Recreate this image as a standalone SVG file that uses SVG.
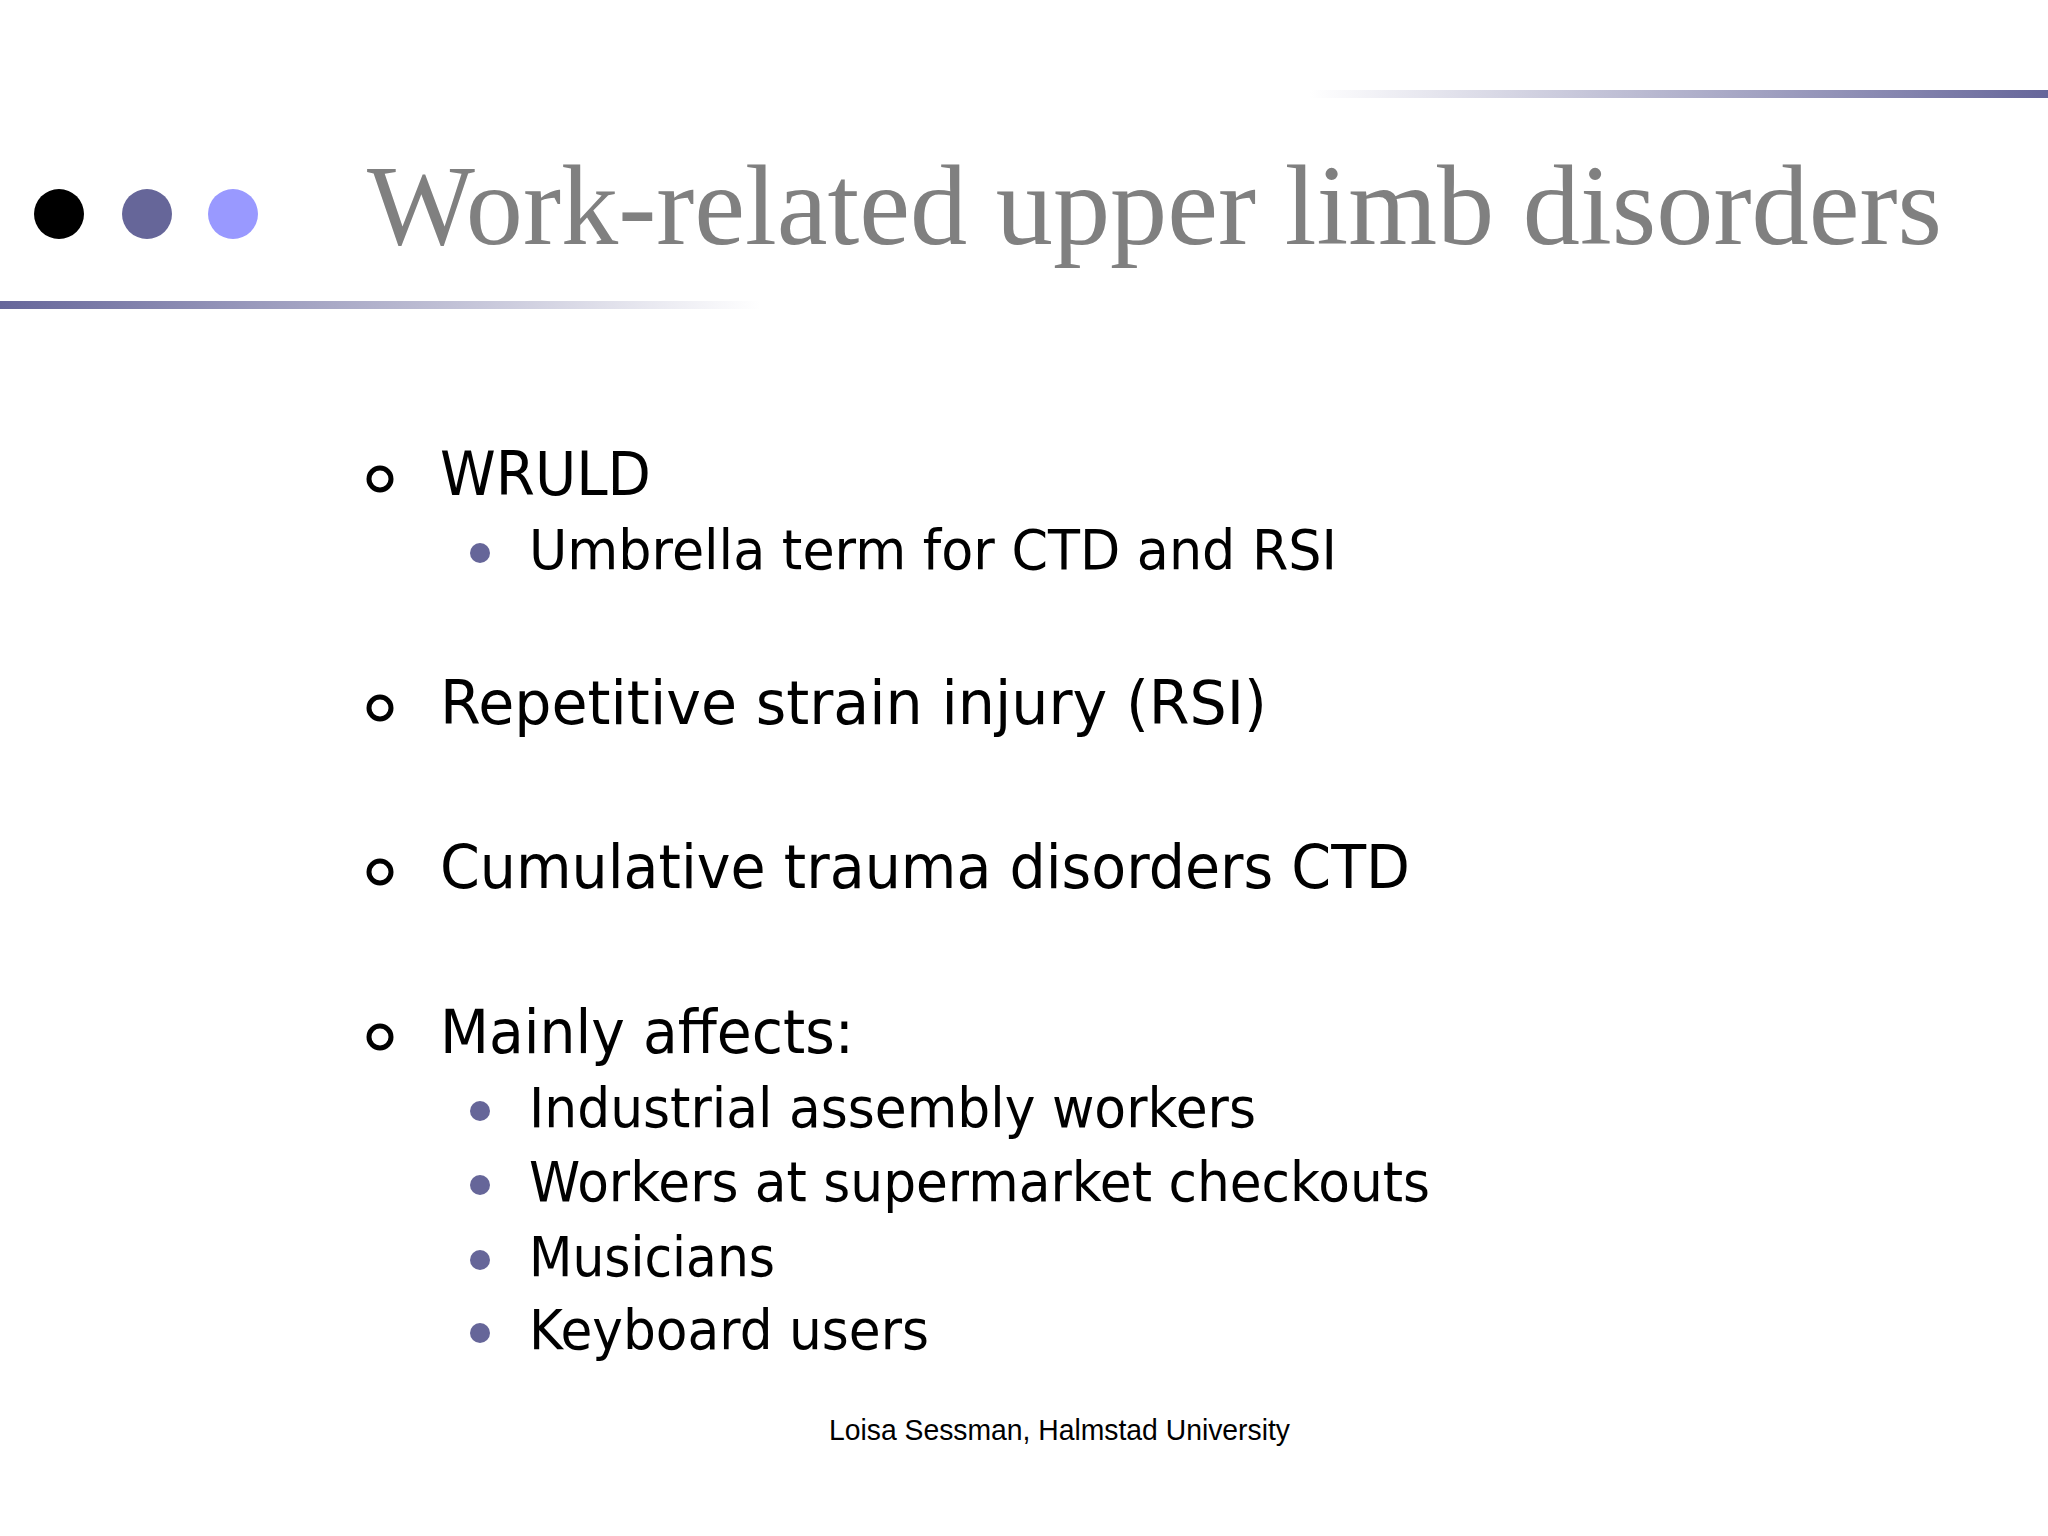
<svg xmlns="http://www.w3.org/2000/svg" width="2048" height="1536" viewBox="0 0 2048 1536">
<defs>
<linearGradient id="gTop" x1="0" x2="1" y1="0" y2="0"><stop offset="0" stop-color="#ffffff"/><stop offset="1" stop-color="#66669a"/></linearGradient>
<linearGradient id="gBot" x1="0" x2="1" y1="0" y2="0"><stop offset="0" stop-color="#66669a"/><stop offset="1" stop-color="#ffffff"/></linearGradient>
</defs>
<style>
.l1{font-family:"DejaVu Sans",Verdana,sans-serif;font-size:60px;fill:#000}
.l2{font-family:"DejaVu Sans",Verdana,sans-serif;font-size:56px;fill:#000}
.hb{fill:none;stroke:#000;stroke-width:5}
.db{fill:#666699}
</style>
<rect width="2048" height="1536" fill="#fff"/>
<g id="header">
<rect x="1310" y="90" width="738" height="8" fill="url(#gTop)"/>
<rect x="0" y="301" width="760" height="8" fill="url(#gBot)"/>
<circle cx="59" cy="214" r="25" fill="#000"/>
<circle cx="147" cy="214" r="25" fill="#666699"/>
<circle cx="233" cy="214" r="25" fill="#9999ff"/>
<text x="367" y="244" font-family="'Liberation Serif','Times New Roman',serif" font-size="115" fill="#808080" textLength="1575" lengthAdjust="spacingAndGlyphs">Work-related upper limb disorders</text>
</g>
<g id="bullets">
<circle class="hb" cx="380" cy="479" r="11"/><text class="l1" x="440" y="495" textLength="211" lengthAdjust="spacingAndGlyphs">WRULD</text>
<circle class="db" cx="480" cy="553" r="10"/><text class="l2" x="529" y="569" textLength="808" lengthAdjust="spacingAndGlyphs">Umbrella term for CTD and RSI</text>
<circle class="hb" cx="380" cy="708" r="11"/><text class="l1" x="440" y="724" textLength="827" lengthAdjust="spacingAndGlyphs">Repetitive strain injury (RSI)</text>
<circle class="hb" cx="380" cy="872" r="11"/><text class="l1" x="440" y="888" textLength="970" lengthAdjust="spacingAndGlyphs">Cumulative trauma disorders CTD</text>
<circle class="hb" cx="380" cy="1037" r="11"/><text class="l1" x="440" y="1053" textLength="414" lengthAdjust="spacingAndGlyphs">Mainly affects:</text>
<circle class="db" cx="480" cy="1111" r="10"/><text class="l2" x="529" y="1127" textLength="727" lengthAdjust="spacingAndGlyphs">Industrial assembly workers</text>
<circle class="db" cx="480" cy="1185" r="10"/><text class="l2" x="529" y="1201" textLength="901" lengthAdjust="spacingAndGlyphs">Workers at supermarket checkouts</text>
<circle class="db" cx="480" cy="1260" r="10"/><text class="l2" x="529" y="1276" textLength="246" lengthAdjust="spacingAndGlyphs">Musicians</text>
<circle class="db" cx="480" cy="1333" r="10"/><text class="l2" x="529" y="1349" textLength="400" lengthAdjust="spacingAndGlyphs">Keyboard users</text>
</g>
<g id="footer">
<text x="829" y="1440" font-family="'Liberation Sans',Arial,sans-serif" font-size="29" fill="#000" textLength="461" lengthAdjust="spacingAndGlyphs">Loisa Sessman, Halmstad University</text>
</g>
</svg>
